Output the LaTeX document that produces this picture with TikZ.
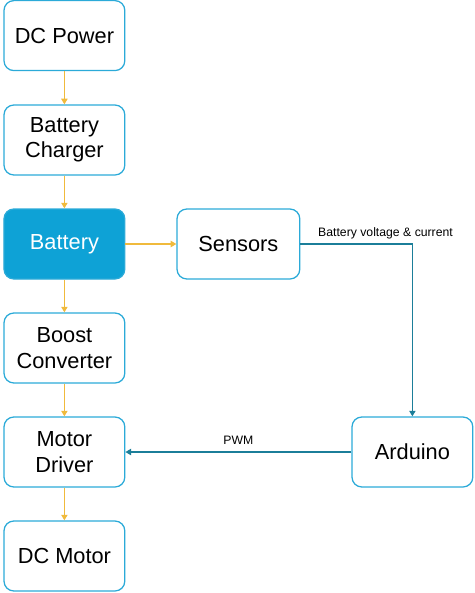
\documentclass[tikz,border=0pt]{standalone}
\usepackage{fontspec}
\setmainfont{Liberation Sans}
\usetikzlibrary{positioning, arrows.meta}
\definecolor{boxblue}{HTML}{2BAAD8}
\definecolor{fillblue}{HTML}{0EA2D6}
\definecolor{flowyellow}{HTML}{F0BA3C}
\definecolor{sigteal}{HTML}{1B7E99}
\tikzset{block/.style={draw=boxblue,line width=0.9pt,rounded corners=7pt,minimum width=3.02cm,minimum height=1.75cm,align=center,font=\fontsize{15.5}{18}\selectfont},
         mainblock/.style={block,fill=fillblue,text=white},
         power/.style={draw=flowyellow,line width=0.8pt,-{Triangle[length=4pt,width=4.5pt]}},
         signal/.style={draw=sigteal,line width=0.8pt,-{Triangle[length=4pt,width=4.5pt]}},
         sigtext/.style={font=\fontsize{8.7}{10}\selectfont,inner sep=1pt},
        }

\begin{document}
\begin{tikzpicture}
        \useasboundingbox (0,0) rectangle (11.85,-14.825);
        \node[block](dcpower)at(1.61,-0.89){DC Power};
        \node[block](charger)at(1.61,-3.5){Battery\\Charger};
        \node[mainblock](battery)at(1.61,-6.1){Battery};
        \node[block,minimum width=3.07cm](sensors)at(5.96,-6.1){Sensors};
        \node[block](boost)at(1.61,-8.7){Boost\\Converter};
        \node[block](driver)at(1.61,-11.3){Motor\\Driver};
        \node[block](arduino)at(10.31,-11.3){Arduino};
        \node[block](dcmotor)at(1.61,-13.9){DC Motor};

        \draw[power](dcpower.south)--(charger.north);
        \draw[power](charger.south)--(battery.north);
        \draw[power](battery.east)--(sensors.west);
        \draw[power](battery.south)--(boost.north);
        \draw[power](boost.south)--(driver.north);
        \draw[power](driver.south)--(dcmotor.north);
        \draw[signal](sensors.east)-|node[sigtext,pos=0.38,above=2pt]{Battery voltage \& current}(arduino.north);
        \draw[signal](arduino.west)--node[sigtext,above=4pt]{PWM}(driver.east);
    \end{tikzpicture}
\end{document}
